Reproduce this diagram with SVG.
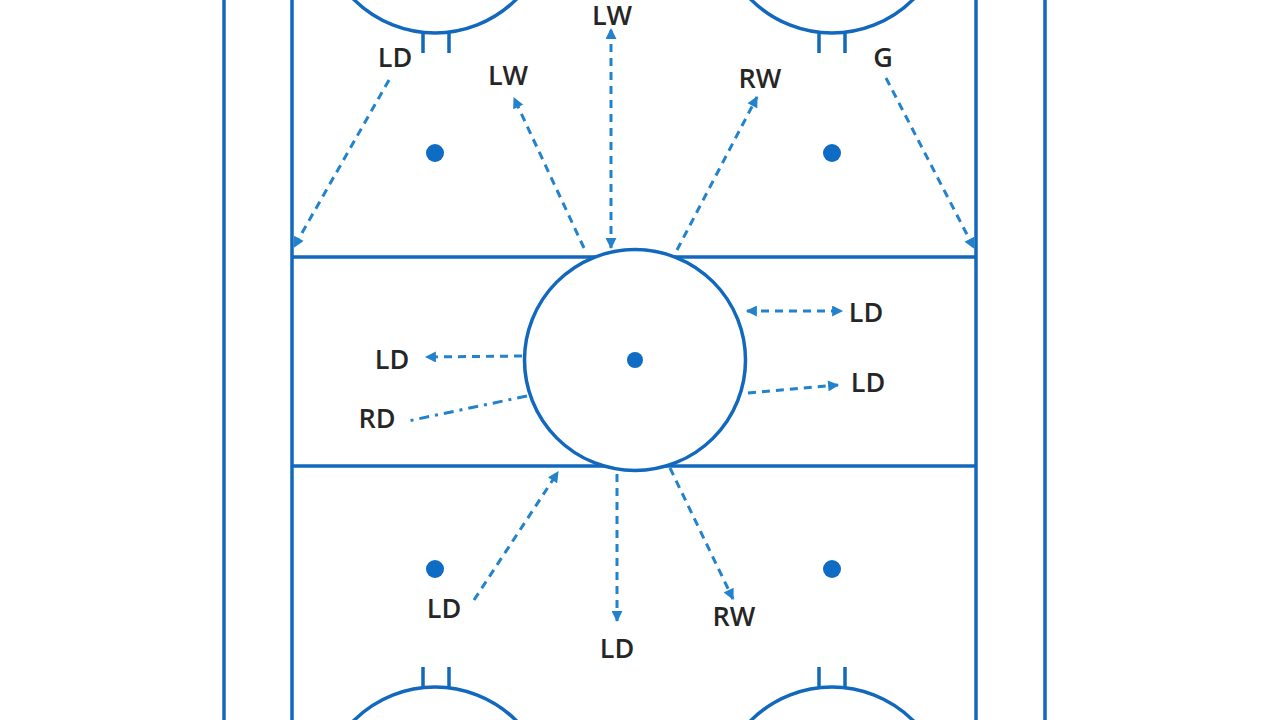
<svg xmlns="http://www.w3.org/2000/svg" width="1280" height="720" viewBox="0 0 1280 720">
<defs>
<style>
.rink{stroke:#1268bd;stroke-width:3.5;fill:none}
.circ{stroke:#1268bd;stroke-width:3.5;fill:#fff}
.dot{fill:#0f6cc4}
.c{stroke:#2282cc;stroke-width:3;fill:none;stroke-dasharray:8 6}
.dd{stroke:#2282cc;stroke-width:3;fill:none;stroke-dasharray:10 6 3 6}
.lbl{font-family:"Open Sans","Liberation Sans",sans-serif;font-size:27px;font-weight:600;fill:#262626;text-anchor:middle}
</style>
<marker id="ah" viewBox="0 0 10 10" refX="9" refY="5" markerWidth="12" markerHeight="11" markerUnits="userSpaceOnUse" orient="auto-start-reverse">
<path d="M0,0 L10,5 L0,10 z" fill="#2282cc"/>
</marker>
</defs>
<rect width="1280" height="720" fill="#fff"/>
<g id="rink">
<line class="rink" x1="224" y1="0" x2="224" y2="720"/>
<line class="rink" x1="1045" y1="0" x2="1045" y2="720"/>
<line class="rink" x1="292" y1="0" x2="292" y2="720"/>
<line class="rink" x1="976" y1="0" x2="976" y2="720"/>
<line class="rink" x1="292" y1="257" x2="976" y2="257"/>
<line class="rink" x1="292" y1="466" x2="976" y2="466"/>
</g>
<g id="faceoff-tl">
<circle class="rink" cx="435" cy="-82" r="115"/>
<line class="rink" x1="423" y1="32" x2="423" y2="53"/>
<line class="rink" x1="449" y1="32" x2="449" y2="53"/>
</g>
<g id="faceoff-tr">
<circle class="rink" cx="832" cy="-82" r="115"/>
<line class="rink" x1="819" y1="32" x2="819" y2="53"/>
<line class="rink" x1="845" y1="32" x2="845" y2="53"/>
</g>
<g id="faceoff-bl">
<circle class="rink" cx="435" cy="802" r="115"/>
<line class="rink" x1="423" y1="688" x2="423" y2="667"/>
<line class="rink" x1="449" y1="688" x2="449" y2="667"/>
</g>
<g id="faceoff-br">
<circle class="rink" cx="832" cy="802" r="115"/>
<line class="rink" x1="819" y1="688" x2="819" y2="667"/>
<line class="rink" x1="845" y1="688" x2="845" y2="667"/>
</g>
<g id="center-circle">
<circle class="circ" cx="635" cy="360" r="110.5"/>
<circle class="dot" cx="635" cy="360" r="8"/>
</g>
<g id="dots">
<circle class="dot" cx="435" cy="153" r="9"/>
<circle class="dot" cx="832" cy="153" r="9"/>
<circle class="dot" cx="435" cy="569" r="9"/>
<circle class="dot" cx="832" cy="569" r="9"/>
</g>
<g id="connectors">
<line class="c" x1="389" y1="80" x2="294" y2="247" marker-end="url(#ah)"/>
<line class="c" x1="584" y1="248" x2="514" y2="98" marker-end="url(#ah)"/>
<line class="c" x1="611" y1="248" x2="611" y2="29" marker-start="url(#ah)" marker-end="url(#ah)"/>
<line class="c" x1="677" y1="250" x2="757" y2="97" marker-end="url(#ah)"/>
<line class="c" x1="886" y1="78" x2="974" y2="248" marker-end="url(#ah)"/>
<line class="c" x1="747" y1="311" x2="842" y2="311" marker-start="url(#ah)" marker-end="url(#ah)"/>
<line class="c" x1="748" y1="393" x2="838" y2="385" marker-end="url(#ah)"/>
<line class="c" x1="522" y1="356" x2="426" y2="357" marker-end="url(#ah)"/>
<line class="dd" x1="527" y1="396" x2="408" y2="421"/>
<line class="c" x1="474" y1="600" x2="558" y2="472" marker-end="url(#ah)"/>
<line class="c" x1="617" y1="474" x2="617" y2="621" marker-end="url(#ah)"/>
<line class="c" x1="670" y1="468" x2="733" y2="599" marker-end="url(#ah)"/>
</g>
<g id="labels">
<text class="lbl" x="395" y="67">LD</text>
<text class="lbl" x="508" y="85">LW</text>
<text class="lbl" x="612" y="25">LW</text>
<text class="lbl" x="760" y="88">RW</text>
<text class="lbl" x="883" y="67">G</text>
<text class="lbl" x="866" y="322">LD</text>
<text class="lbl" x="868" y="392">LD</text>
<text class="lbl" x="392" y="369">LD</text>
<text class="lbl" x="377" y="428">RD</text>
<text class="lbl" x="444" y="618">LD</text>
<text class="lbl" x="617" y="658">LD</text>
<text class="lbl" x="734" y="626">RW</text>
</g>
</svg>
